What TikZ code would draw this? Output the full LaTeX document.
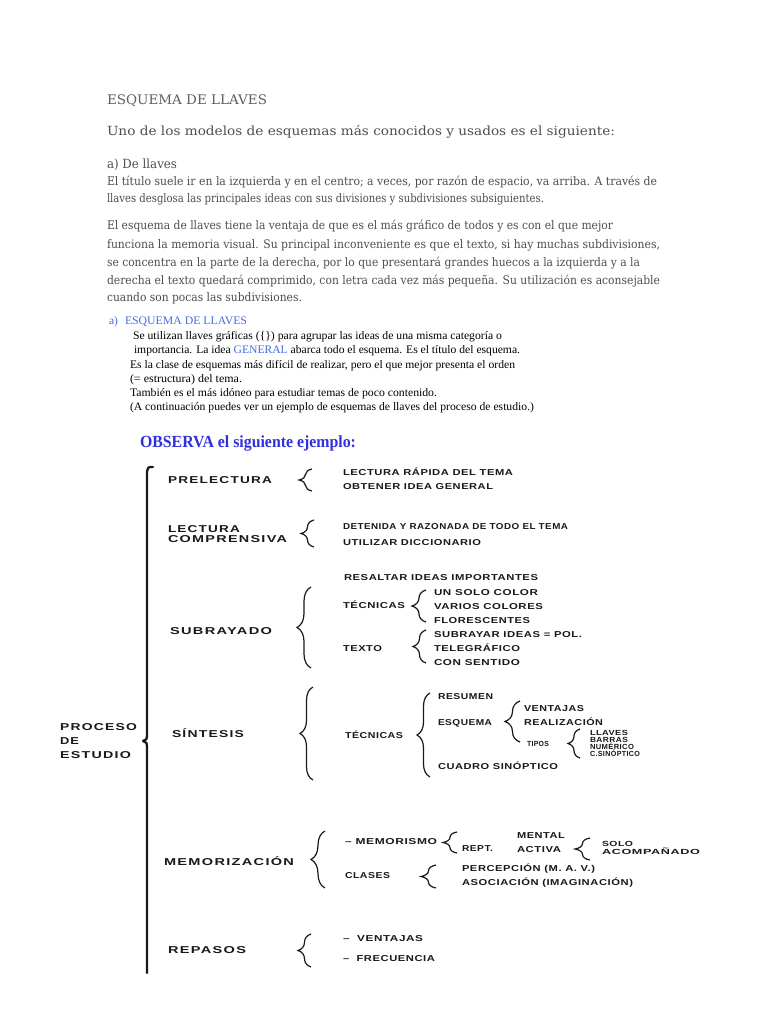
\documentclass[tikz,border=0pt]{standalone}
\usepackage{fontspec}
\usepackage{graphicx}
\usetikzlibrary{decorations.pathreplacing}
\setmainfont{Liberation Serif}
\newfontfamily\topf{DejaVu Serif}
\newfontfamily\dga[LetterSpace=9]{Liberation Sans}
\newfontfamily\dgb[LetterSpace=5]{Liberation Sans}
\definecolor{topgray}{RGB}{78,78,78}
\definecolor{titlegray}{RGB}{95,95,95}
\definecolor{linkblue}{RGB}{70,108,228}
\definecolor{obsblue}{RGB}{48,48,222}
\definecolor{ink}{RGB}{25,25,25}
\newcommand{\fw}[2]{\resizebox{#1pt}{\height}{#2}}
\begin{document}
\begin{tikzpicture}[x=1pt,y=-1pt,
  every node/.style={inner sep=0pt,outer sep=0pt},
  ttitle/.style={anchor=base west,yshift=-4.8pt,text=titlegray,font={\topf\fontsize{13.2}{15}\selectfont}},
  tophead/.style={anchor=base west,yshift=-4.2pt,text=topgray,font={\topf\fontsize{12.6}{15}\selectfont}},
  toptxt/.style={anchor=base west,yshift=-4pt,text=topgray,font={\topf\fontsize{11.8}{15}\selectfont}},
  midtxt/.style={anchor=base west,yshift=-3.5pt,text=black,font={\fontsize{11.5}{13}\selectfont}},
  obs/.style={anchor=base west,yshift=-5.5pt,text=obsblue,font={\bfseries\fontsize{17}{19}\selectfont}},
  dL/.style={anchor=base west,yshift=-3.6pt,text=ink,font={\dga\bfseries\fontsize{10}{11}\selectfont}},
  dS/.style={anchor=base west,yshift=-3.1pt,text=ink,font={\dgb\bfseries\fontsize{8.6}{9}\selectfont}},
  dT/.style={anchor=base west,yshift=-2.7pt,text=ink,font={\dgb\bfseries\fontsize{7.4}{8}\selectfont}},
  brc/.style={decorate,decoration={brace,amplitude=#1pt},line width=1.2pt,draw=ink},
  mainbr/.style={line width=2.3pt,draw=ink,line cap=round,line join=round}]
\fill[white] (0,0) rectangle (768,1024);
\path[use as bounding box] (0,0) rectangle (768,1024);

% ---- top text ----
\node[ttitle] (h0) at (107,100) {\fw{160}{ESQUEMA DE LLAVES}};
\node[tophead] (h1) at (107,131) {\fw{508}{Uno de los modelos de esquemas más conocidos y usados es el siguiente:}};
\node[tophead] (h2) at (107,164) {\fw{70}{a) De llaves}};
\node[toptxt] (h3) at (107,182) {\fw{550}{El título suele ir en la izquierda y en el centro; a veces, por razón de espacio, va arriba. A través de}};
\node[toptxt] (h4) at (107,199) {\fw{437}{llaves desglosa las principales ideas con sus divisiones y subdivisiones subsiguientes.}};
\node[toptxt] (h5) at (107,226) {\fw{506}{El esquema de llaves tiene la ventaja de que es el más gráfico de todos y es con el que mejor}};
\node[toptxt] (h6) at (107,244) {\fw{553}{funciona la memoria visual. Su principal inconveniente es que el texto, si hay muchas subdivisiones,}};
\node[toptxt] (h7) at (107,262) {\fw{533}{se concentra en la parte de la derecha, por lo que presentará grandes huecos a la izquierda y a la}};
\node[toptxt] (h8) at (107,280) {\fw{553}{derecha el texto quedará comprimido, con letra cada vez más pequeña. Su utilización es aconsejable}};
\node[toptxt] (h9) at (107,297) {\fw{195}{cuando son pocas las subdivisiones.}};

% ---- middle text ----
\node[midtxt,text=linkblue] (m0a) at (109,321) {a)};
\node[midtxt,text=linkblue] (m0) at (125,321) {\fw{122}{ESQUEMA DE LLAVES}};
\node[midtxt] (m1) at (133,336) {\fw{369}{Se utilizan llaves gráficas (\{\}) para agrupar las ideas de una misma categoría o}};
\node[midtxt] (m2) at (134,350) {\fw{386}{importancia. La idea \textcolor{linkblue}{GENERAL} abarca todo el esquema. Es el título del esquema.}};
\node[midtxt] (m3) at (130,365) {\fw{385}{Es la clase de esquemas más difícil de realizar, pero el que mejor presenta el orden}};
\node[midtxt] (m4) at (130,379) {\fw{112}{(= estructura) del tema.}};
\node[midtxt] (m5) at (130,393) {\fw{307}{También es el más idóneo para estudiar temas de poco contenido.}};
\node[midtxt] (m6) at (130,407) {\fw{404}{(A continuación puedes ver un ejemplo de esquemas de llaves del proceso de estudio.)}};
\node[obs] (m7) at (140,442) {\fw{216}{OBSERVA el siguiente ejemplo:}};

% ---- diagram: root ----
\node[dL] (p1) at (60,727) {\fw{77}{PROCESO}};
\node[dL] (p2) at (60,741) {\fw{19}{DE}};
\node[dL] (p3) at (60,755) {\fw{71}{ESTUDIO}};
\draw[mainbr] (153,467) .. controls (148,467) .. (147,472) -- (147,736)
  .. controls (147,739) .. (143,741) .. controls (147,743) .. (147,746) -- (147,973);

% level 1
\node[dL] (n1) at (168,480) {\fw{104}{PRELECTURA}};
\node[dL] (n2a) at (168,529) {\fw{72}{LECTURA}};
\node[dL] (n2b) at (168,539) {\fw{119}{COMPRENSIVA}};
\node[dL] (n3) at (170,631) {\fw{102}{SUBRAYADO}};
\node[dL] (n4) at (172,734) {\fw{72}{SÍNTESIS}};
\node[dL] (n5) at (164,862) {\fw{130}{MEMORIZACIÓN}};
\node[dL] (n6) at (168,950) {\fw{78}{REPASOS}};

% prelectura
\draw[brc=13] (312,491) -- (312,469);
\node[dS] (a1) at (343,472) {\fw{170}{LECTURA RÁPIDA DEL TEMA}};
\node[dS] (a2) at (343,486) {\fw{150}{OBTENER IDEA GENERAL}};

% lectura comprensiva
\draw[brc=13] (314,547) -- (314,520);
\node[dS] (b1) at (343,526) {\fw{225}{DETENIDA Y RAZONADA DE TODO EL TEMA}};
\node[dS] (b2) at (343,542) {\fw{138}{UTILIZAR DICCIONARIO}};

% subrayado
\node[dS] (c0) at (344,577) {\fw{194}{RESALTAR IDEAS IMPORTANTES}};
\draw[brc=14] (311,668) -- (311,587);
\node[dS] (c1) at (343,605) {\fw{62}{TÉCNICAS}};
\draw[brc=14] (426,622) -- (426,590);
\node[dS] (c1a) at (434,592) {\fw{104}{UN SOLO COLOR}};
\node[dS] (c1b) at (434,606) {\fw{109}{VARIOS COLORES}};
\node[dS] (c1c) at (434,620) {\fw{96}{FLORESCENTES}};
\node[dS] (c2) at (343,648) {\fw{39}{TEXTO}};
\draw[brc=13] (426,663) -- (426,630);
\node[dS] (c2a) at (434,634) {\fw{148}{SUBRAYAR IDEAS = POL.}};
\node[dS] (c2b) at (434,648) {\fw{86}{TELEGRÁFICO}};
\node[dS] (c2c) at (434,662) {\fw{86}{CON SENTIDO}};

% sintesis
\draw[brc=13] (313,780) -- (313,687);
\node[dS] (d1) at (345,735) {\fw{58}{TÉCNICAS}};
\draw[brc=13] (430,777) -- (430,693);
\node[dS] (d1a) at (438,696) {\fw{55}{RESUMEN}};
\node[dS] (d1b) at (438,722) {\fw{54}{ESQUEMA}};
\draw[brc=15] (520,742) -- (520,701);
\node[dS] (d1b1) at (524,708) {\fw{60}{VENTAJAS}};
\node[dS] (d1b2) at (524,722) {\fw{79}{REALIZACIÓN}};
\node[dT] (d1b3) at (527,744) {\fw{22}{TIPOS}};
\draw[brc=12] (580,758) -- (580,729);
\node[dT] (t1) at (590,733) {\fw{38}{LLAVES}};
\node[dT] (t2) at (590,740) {\fw{38}{BARRAS}};
\node[dT] (t3) at (590,747) {\fw{44}{NUMÉRICO}};
\node[dT] (t4) at (590,754) {\fw{50}{C.SINÓPTICO}};
\node[dS] (d1c) at (438,766) {\fw{120}{CUADRO SINÓPTICO}};

% memorizacion
\draw[brc=14] (325,888) -- (325,831);
\node[dS] (e1) at (345,841) {\fw{92}{– MEMORISMO}};
\draw[brc=14] (457,853) -- (457,832);
\node[dS] (e1a) at (462,848) {\fw{31}{REPT.}};
\node[dS] (e1b) at (517,835) {\fw{48}{MENTAL}};
\node[dS] (e1c) at (517,849) {\fw{44}{ACTIVA}};
\draw[brc=15] (590,860) -- (590,838);
\node[dT] (e1c1) at (602,844) {\fw{31}{SOLO}};
\node[dT] (e1c2) at (602,852) {\fw{98}{ACOMPAÑADO}};
\node[dS] (e2) at (345,875) {\fw{45}{CLASES}};
\draw[brc=15] (436,888) -- (436,865);
\node[dS] (e2a) at (462,868) {\fw{133}{PERCEPCIÓN (M. A. V.)}};
\node[dS] (e2b) at (462,882) {\fw{171}{ASOCIACIÓN (IMAGINACIÓN)}};

% repasos
\draw[brc=13] (311,967) -- (311,934);
\node[dS] (f1) at (343,938) {\fw{80}{–\ \ VENTAJAS}};
\node[dS] (f2) at (343,958) {\fw{92}{–\ \ FRECUENCIA}};
\end{tikzpicture}
\end{document}
